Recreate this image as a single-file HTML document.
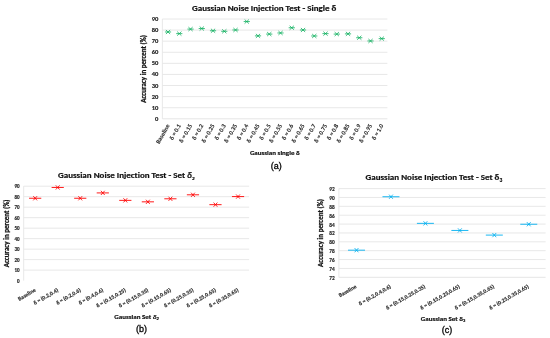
<!DOCTYPE html>
<html><head><meta charset="utf-8"><style>
html,body{margin:0;padding:0;background:#fff;}
body{width:550px;height:338px;overflow:hidden;}
svg{display:block;font-variant-ligatures:none;filter:blur(0.3px);}
</style></head><body>
<svg width="550" height="338" viewBox="0 0 550 338">
<text x="0.00" y="0.00" font-size="9" font-weight="bold" text-anchor="start" fill="#111" font-family="Carlito, 'Liberation Sans', sans-serif" stroke="#111" stroke-width="0.22" transform="translate(192.00,10.90) scale(1,0.88)">Gaussian Noise Injection Test - Single δ</text>
<text x="0.00" y="0.00" font-size="5.8" font-weight="bold" text-anchor="end" fill="#2a2a2a" font-family="Carlito, 'Liberation Sans', sans-serif" stroke="#2a2a2a" stroke-width="0.18" transform="translate(158.40,120.78) scale(1.12,1)">0</text>
<line x1="162.40" y1="107.71" x2="387.40" y2="107.71" stroke="#e5e5e5" stroke-width="0.9"/>
<text x="0.00" y="0.00" font-size="5.8" font-weight="bold" text-anchor="end" fill="#2a2a2a" font-family="Carlito, 'Liberation Sans', sans-serif" stroke="#2a2a2a" stroke-width="0.18" transform="translate(158.40,109.69) scale(1.12,1)">10</text>
<line x1="162.40" y1="96.62" x2="387.40" y2="96.62" stroke="#e5e5e5" stroke-width="0.9"/>
<text x="0.00" y="0.00" font-size="5.8" font-weight="bold" text-anchor="end" fill="#2a2a2a" font-family="Carlito, 'Liberation Sans', sans-serif" stroke="#2a2a2a" stroke-width="0.18" transform="translate(158.40,98.61) scale(1.12,1)">20</text>
<line x1="162.40" y1="85.53" x2="387.40" y2="85.53" stroke="#e5e5e5" stroke-width="0.9"/>
<text x="0.00" y="0.00" font-size="5.8" font-weight="bold" text-anchor="end" fill="#2a2a2a" font-family="Carlito, 'Liberation Sans', sans-serif" stroke="#2a2a2a" stroke-width="0.18" transform="translate(158.40,87.52) scale(1.12,1)">30</text>
<line x1="162.40" y1="74.44" x2="387.40" y2="74.44" stroke="#e5e5e5" stroke-width="0.9"/>
<text x="0.00" y="0.00" font-size="5.8" font-weight="bold" text-anchor="end" fill="#2a2a2a" font-family="Carlito, 'Liberation Sans', sans-serif" stroke="#2a2a2a" stroke-width="0.18" transform="translate(158.40,76.43) scale(1.12,1)">40</text>
<line x1="162.40" y1="63.36" x2="387.40" y2="63.36" stroke="#e5e5e5" stroke-width="0.9"/>
<text x="0.00" y="0.00" font-size="5.8" font-weight="bold" text-anchor="end" fill="#2a2a2a" font-family="Carlito, 'Liberation Sans', sans-serif" stroke="#2a2a2a" stroke-width="0.18" transform="translate(158.40,65.34) scale(1.12,1)">50</text>
<line x1="162.40" y1="52.27" x2="387.40" y2="52.27" stroke="#e5e5e5" stroke-width="0.9"/>
<text x="0.00" y="0.00" font-size="5.8" font-weight="bold" text-anchor="end" fill="#2a2a2a" font-family="Carlito, 'Liberation Sans', sans-serif" stroke="#2a2a2a" stroke-width="0.18" transform="translate(158.40,54.25) scale(1.12,1)">60</text>
<line x1="162.40" y1="41.18" x2="387.40" y2="41.18" stroke="#e5e5e5" stroke-width="0.9"/>
<text x="0.00" y="0.00" font-size="5.8" font-weight="bold" text-anchor="end" fill="#2a2a2a" font-family="Carlito, 'Liberation Sans', sans-serif" stroke="#2a2a2a" stroke-width="0.18" transform="translate(158.40,43.16) scale(1.12,1)">70</text>
<line x1="162.40" y1="30.09" x2="387.40" y2="30.09" stroke="#e5e5e5" stroke-width="0.9"/>
<text x="0.00" y="0.00" font-size="5.8" font-weight="bold" text-anchor="end" fill="#2a2a2a" font-family="Carlito, 'Liberation Sans', sans-serif" stroke="#2a2a2a" stroke-width="0.18" transform="translate(158.40,32.07) scale(1.12,1)">80</text>
<line x1="162.40" y1="19.00" x2="387.40" y2="19.00" stroke="#e5e5e5" stroke-width="0.9"/>
<text x="0.00" y="0.00" font-size="5.8" font-weight="bold" text-anchor="end" fill="#2a2a2a" font-family="Carlito, 'Liberation Sans', sans-serif" stroke="#2a2a2a" stroke-width="0.18" transform="translate(158.40,20.98) scale(1.12,1)">90</text>
<line x1="162.40" y1="19.00" x2="162.40" y2="118.80" stroke="#e5e5e5" stroke-width="0.9"/>
<line x1="162.40" y1="118.80" x2="387.40" y2="118.80" stroke="#e5e5e5" stroke-width="1"/>
<path d="M165.93,29.97L170.12,33.97M165.93,33.97L170.12,29.97M164.93,31.97L171.12,31.97" stroke="#10b060" stroke-width="0.8" fill="none"/>
<text x="0.00" y="0.00" font-size="6.2" font-weight="bold" text-anchor="end" fill="#2a2a2a" font-family="Carlito, 'Liberation Sans', sans-serif" stroke="#2a2a2a" stroke-width="0.1" transform="translate(169.93,125.60) rotate(-60)">Baseline</text>
<path d="M177.18,31.64L181.38,35.64M177.18,35.64L181.38,31.64M176.18,33.64L182.38,33.64" stroke="#10b060" stroke-width="0.8" fill="none"/>
<text x="0.00" y="0.00" font-size="6.2" font-weight="bold" text-anchor="end" fill="#2a2a2a" font-family="Carlito, 'Liberation Sans', sans-serif" stroke="#2a2a2a" stroke-width="0.1" transform="translate(181.18,125.60) rotate(-60)">δ = 0.1</text>
<path d="M188.43,27.09L192.62,31.09M188.43,31.09L192.62,27.09M187.43,29.09L193.62,29.09" stroke="#10b060" stroke-width="0.8" fill="none"/>
<text x="0.00" y="0.00" font-size="6.2" font-weight="bold" text-anchor="end" fill="#2a2a2a" font-family="Carlito, 'Liberation Sans', sans-serif" stroke="#2a2a2a" stroke-width="0.1" transform="translate(192.43,125.60) rotate(-60)">δ = 0.15</text>
<path d="M199.68,26.54L203.88,30.54M199.68,30.54L203.88,26.54M198.68,28.54L204.88,28.54" stroke="#10b060" stroke-width="0.8" fill="none"/>
<text x="0.00" y="0.00" font-size="6.2" font-weight="bold" text-anchor="end" fill="#2a2a2a" font-family="Carlito, 'Liberation Sans', sans-serif" stroke="#2a2a2a" stroke-width="0.1" transform="translate(203.68,125.60) rotate(-60)">δ = 0.2</text>
<path d="M210.93,28.75L215.12,32.75M210.93,32.75L215.12,28.75M209.93,30.75L216.12,30.75" stroke="#10b060" stroke-width="0.8" fill="none"/>
<text x="0.00" y="0.00" font-size="6.2" font-weight="bold" text-anchor="end" fill="#2a2a2a" font-family="Carlito, 'Liberation Sans', sans-serif" stroke="#2a2a2a" stroke-width="0.1" transform="translate(214.93,125.60) rotate(-60)">δ = 0.25</text>
<path d="M222.18,29.31L226.38,33.31M222.18,33.31L226.38,29.31M221.18,31.31L227.38,31.31" stroke="#10b060" stroke-width="0.8" fill="none"/>
<text x="0.00" y="0.00" font-size="6.2" font-weight="bold" text-anchor="end" fill="#2a2a2a" font-family="Carlito, 'Liberation Sans', sans-serif" stroke="#2a2a2a" stroke-width="0.1" transform="translate(226.18,125.60) rotate(-60)">δ = 0.3</text>
<path d="M233.42,27.98L237.62,31.98M233.42,31.98L237.62,27.98M232.42,29.98L238.62,29.98" stroke="#10b060" stroke-width="0.8" fill="none"/>
<text x="0.00" y="0.00" font-size="6.2" font-weight="bold" text-anchor="end" fill="#2a2a2a" font-family="Carlito, 'Liberation Sans', sans-serif" stroke="#2a2a2a" stroke-width="0.1" transform="translate(237.42,125.60) rotate(-60)">δ = 0.35</text>
<path d="M244.67,19.55L248.87,23.55M244.67,23.55L248.87,19.55M243.67,21.55L249.87,21.55" stroke="#10b060" stroke-width="0.8" fill="none"/>
<text x="0.00" y="0.00" font-size="6.2" font-weight="bold" text-anchor="end" fill="#2a2a2a" font-family="Carlito, 'Liberation Sans', sans-serif" stroke="#2a2a2a" stroke-width="0.1" transform="translate(248.67,125.60) rotate(-60)">δ = 0.4</text>
<path d="M255.92,33.86L260.12,37.86M255.92,37.86L260.12,33.86M254.92,35.86L261.12,35.86" stroke="#10b060" stroke-width="0.8" fill="none"/>
<text x="0.00" y="0.00" font-size="6.2" font-weight="bold" text-anchor="end" fill="#2a2a2a" font-family="Carlito, 'Liberation Sans', sans-serif" stroke="#2a2a2a" stroke-width="0.1" transform="translate(259.92,125.60) rotate(-60)">δ = 0.45</text>
<path d="M267.17,32.08L271.38,36.08M267.17,36.08L271.38,32.08M266.17,34.08L272.38,34.08" stroke="#10b060" stroke-width="0.8" fill="none"/>
<text x="0.00" y="0.00" font-size="6.2" font-weight="bold" text-anchor="end" fill="#2a2a2a" font-family="Carlito, 'Liberation Sans', sans-serif" stroke="#2a2a2a" stroke-width="0.1" transform="translate(271.17,125.60) rotate(-60)">δ = 0.5</text>
<path d="M278.42,30.97L282.62,34.97M278.42,34.97L282.62,30.97M277.42,32.97L283.62,32.97" stroke="#10b060" stroke-width="0.8" fill="none"/>
<text x="0.00" y="0.00" font-size="6.2" font-weight="bold" text-anchor="end" fill="#2a2a2a" font-family="Carlito, 'Liberation Sans', sans-serif" stroke="#2a2a2a" stroke-width="0.1" transform="translate(282.42,125.60) rotate(-60)">δ = 0.55</text>
<path d="M289.67,25.76L293.88,29.76M289.67,29.76L293.88,25.76M288.67,27.76L294.88,27.76" stroke="#10b060" stroke-width="0.8" fill="none"/>
<text x="0.00" y="0.00" font-size="6.2" font-weight="bold" text-anchor="end" fill="#2a2a2a" font-family="Carlito, 'Liberation Sans', sans-serif" stroke="#2a2a2a" stroke-width="0.1" transform="translate(293.67,125.60) rotate(-60)">δ = 0.6</text>
<path d="M300.92,27.98L305.12,31.98M300.92,31.98L305.12,27.98M299.92,29.98L306.12,29.98" stroke="#10b060" stroke-width="0.8" fill="none"/>
<text x="0.00" y="0.00" font-size="6.2" font-weight="bold" text-anchor="end" fill="#2a2a2a" font-family="Carlito, 'Liberation Sans', sans-serif" stroke="#2a2a2a" stroke-width="0.1" transform="translate(304.92,125.60) rotate(-60)">δ = 0.65</text>
<path d="M312.17,33.97L316.38,37.97M312.17,37.97L316.38,33.97M311.17,35.97L317.38,35.97" stroke="#10b060" stroke-width="0.8" fill="none"/>
<text x="0.00" y="0.00" font-size="6.2" font-weight="bold" text-anchor="end" fill="#2a2a2a" font-family="Carlito, 'Liberation Sans', sans-serif" stroke="#2a2a2a" stroke-width="0.1" transform="translate(316.17,125.60) rotate(-60)">δ = 0.7</text>
<path d="M323.42,31.64L327.62,35.64M323.42,35.64L327.62,31.64M322.42,33.64L328.62,33.64" stroke="#10b060" stroke-width="0.8" fill="none"/>
<text x="0.00" y="0.00" font-size="6.2" font-weight="bold" text-anchor="end" fill="#2a2a2a" font-family="Carlito, 'Liberation Sans', sans-serif" stroke="#2a2a2a" stroke-width="0.1" transform="translate(327.42,125.60) rotate(-60)">δ = 0.75</text>
<path d="M334.67,32.08L338.88,36.08M334.67,36.08L338.88,32.08M333.67,34.08L339.88,34.08" stroke="#10b060" stroke-width="0.8" fill="none"/>
<text x="0.00" y="0.00" font-size="6.2" font-weight="bold" text-anchor="end" fill="#2a2a2a" font-family="Carlito, 'Liberation Sans', sans-serif" stroke="#2a2a2a" stroke-width="0.1" transform="translate(338.67,125.60) rotate(-60)">δ = 0.8</text>
<path d="M345.92,31.86L350.12,35.86M345.92,35.86L350.12,31.86M344.92,33.86L351.12,33.86" stroke="#10b060" stroke-width="0.8" fill="none"/>
<text x="0.00" y="0.00" font-size="6.2" font-weight="bold" text-anchor="end" fill="#2a2a2a" font-family="Carlito, 'Liberation Sans', sans-serif" stroke="#2a2a2a" stroke-width="0.1" transform="translate(349.92,125.60) rotate(-60)">δ = 0.85</text>
<path d="M357.17,35.74L361.38,39.74M357.17,39.74L361.38,35.74M356.17,37.74L362.38,37.74" stroke="#10b060" stroke-width="0.8" fill="none"/>
<text x="0.00" y="0.00" font-size="6.2" font-weight="bold" text-anchor="end" fill="#2a2a2a" font-family="Carlito, 'Liberation Sans', sans-serif" stroke="#2a2a2a" stroke-width="0.1" transform="translate(361.17,125.60) rotate(-60)">δ = 0.9</text>
<path d="M368.42,38.96L372.62,42.96M368.42,42.96L372.62,38.96M367.42,40.96L373.62,40.96" stroke="#10b060" stroke-width="0.8" fill="none"/>
<text x="0.00" y="0.00" font-size="6.2" font-weight="bold" text-anchor="end" fill="#2a2a2a" font-family="Carlito, 'Liberation Sans', sans-serif" stroke="#2a2a2a" stroke-width="0.1" transform="translate(372.42,125.60) rotate(-60)">δ = 0.95</text>
<path d="M379.67,36.63L383.88,40.63M379.67,40.63L383.88,36.63M378.67,38.63L384.88,38.63" stroke="#10b060" stroke-width="0.8" fill="none"/>
<text x="0.00" y="0.00" font-size="6.2" font-weight="bold" text-anchor="end" fill="#2a2a2a" font-family="Carlito, 'Liberation Sans', sans-serif" stroke="#2a2a2a" stroke-width="0.1" transform="translate(383.67,125.60) rotate(-60)">δ = 1.0</text>
<text x="0.00" y="0.00" font-size="7" font-weight="bold" text-anchor="middle" fill="#111" font-family="Carlito, 'Liberation Sans', sans-serif" stroke="#111" stroke-width="0.25" transform="translate(146.10,68.90) rotate(-90)">Accuracy in percent (%)</text>
<text x="0.00" y="0.00" font-size="7" font-weight="bold" text-anchor="middle" fill="#111" font-family="Carlito, 'Liberation Sans', sans-serif" stroke="#111" stroke-width="0.2" transform="translate(274.80,155.10) scale(1,0.88)">Gaussian single δ</text>
<text x="276.20" y="169.10" font-size="9" font-weight="normal" text-anchor="middle" fill="#000" font-family="'Liberation Sans', Arial, sans-serif" stroke="#000" stroke-width="0.3" >(a)</text>
<text x="0.00" y="0.00" font-size="9" font-weight="bold" text-anchor="start" fill="#111" font-family="Carlito, 'Liberation Sans', sans-serif" stroke="#111" stroke-width="0.22" transform="translate(58.00,178.30) scale(1,0.88)">Gaussian Noise Injection Test - Set <tspan font-style="italic">δ</tspan><tspan font-size="5" dy="2" font-style="italic">2</tspan></text>
<text x="0.00" y="0.00" font-size="5.0" font-weight="bold" text-anchor="end" fill="#2a2a2a" font-family="Carlito, 'Liberation Sans', sans-serif" stroke="#2a2a2a" stroke-width="0.18" transform="translate(19.60,282.73) scale(1.0,1)">0</text>
<line x1="23.70" y1="270.11" x2="249.10" y2="270.11" stroke="#e5e5e5" stroke-width="0.9"/>
<text x="0.00" y="0.00" font-size="5.0" font-weight="bold" text-anchor="end" fill="#2a2a2a" font-family="Carlito, 'Liberation Sans', sans-serif" stroke="#2a2a2a" stroke-width="0.18" transform="translate(19.60,272.24) scale(1.0,1)">10</text>
<line x1="23.70" y1="259.62" x2="249.10" y2="259.62" stroke="#e5e5e5" stroke-width="0.9"/>
<text x="0.00" y="0.00" font-size="5.0" font-weight="bold" text-anchor="end" fill="#2a2a2a" font-family="Carlito, 'Liberation Sans', sans-serif" stroke="#2a2a2a" stroke-width="0.18" transform="translate(19.60,261.75) scale(1.0,1)">20</text>
<line x1="23.70" y1="249.13" x2="249.10" y2="249.13" stroke="#e5e5e5" stroke-width="0.9"/>
<text x="0.00" y="0.00" font-size="5.0" font-weight="bold" text-anchor="end" fill="#2a2a2a" font-family="Carlito, 'Liberation Sans', sans-serif" stroke="#2a2a2a" stroke-width="0.18" transform="translate(19.60,251.26) scale(1.0,1)">30</text>
<line x1="23.70" y1="238.64" x2="249.10" y2="238.64" stroke="#e5e5e5" stroke-width="0.9"/>
<text x="0.00" y="0.00" font-size="5.0" font-weight="bold" text-anchor="end" fill="#2a2a2a" font-family="Carlito, 'Liberation Sans', sans-serif" stroke="#2a2a2a" stroke-width="0.18" transform="translate(19.60,240.77) scale(1.0,1)">40</text>
<line x1="23.70" y1="228.16" x2="249.10" y2="228.16" stroke="#e5e5e5" stroke-width="0.9"/>
<text x="0.00" y="0.00" font-size="5.0" font-weight="bold" text-anchor="end" fill="#2a2a2a" font-family="Carlito, 'Liberation Sans', sans-serif" stroke="#2a2a2a" stroke-width="0.18" transform="translate(19.60,230.29) scale(1.0,1)">50</text>
<line x1="23.70" y1="217.67" x2="249.10" y2="217.67" stroke="#e5e5e5" stroke-width="0.9"/>
<text x="0.00" y="0.00" font-size="5.0" font-weight="bold" text-anchor="end" fill="#2a2a2a" font-family="Carlito, 'Liberation Sans', sans-serif" stroke="#2a2a2a" stroke-width="0.18" transform="translate(19.60,219.80) scale(1.0,1)">60</text>
<line x1="23.70" y1="207.18" x2="249.10" y2="207.18" stroke="#e5e5e5" stroke-width="0.9"/>
<text x="0.00" y="0.00" font-size="5.0" font-weight="bold" text-anchor="end" fill="#2a2a2a" font-family="Carlito, 'Liberation Sans', sans-serif" stroke="#2a2a2a" stroke-width="0.18" transform="translate(19.60,209.31) scale(1.0,1)">70</text>
<line x1="23.70" y1="196.69" x2="249.10" y2="196.69" stroke="#e5e5e5" stroke-width="0.9"/>
<text x="0.00" y="0.00" font-size="5.0" font-weight="bold" text-anchor="end" fill="#2a2a2a" font-family="Carlito, 'Liberation Sans', sans-serif" stroke="#2a2a2a" stroke-width="0.18" transform="translate(19.60,198.82) scale(1.0,1)">80</text>
<line x1="23.70" y1="186.20" x2="249.10" y2="186.20" stroke="#e5e5e5" stroke-width="0.9"/>
<text x="0.00" y="0.00" font-size="5.0" font-weight="bold" text-anchor="end" fill="#2a2a2a" font-family="Carlito, 'Liberation Sans', sans-serif" stroke="#2a2a2a" stroke-width="0.18" transform="translate(19.60,188.33) scale(1.0,1)">90</text>
<line x1="23.70" y1="186.20" x2="23.70" y2="280.60" stroke="#e5e5e5" stroke-width="0.9"/>
<path d="M33.27,196.16L37.07,200.36M33.27,200.36L37.07,196.16" stroke="#ff0000" stroke-width="0.85" fill="none"/><path d="M29.07,198.26L41.27,198.26" stroke="#ff0000" stroke-width="0.9" fill="none"/>
<text x="0.00" y="0.00" font-size="5.6" font-weight="bold" text-anchor="end" fill="#2a2a2a" font-family="Carlito, 'Liberation Sans', sans-serif" stroke="#2a2a2a" stroke-width="0.15" transform="translate(36.17,291.20) rotate(-30)">Baseline</text>
<path d="M55.81,185.36L59.61,189.56M55.81,189.56L59.61,185.36" stroke="#ff0000" stroke-width="0.85" fill="none"/><path d="M51.61,187.46L63.81,187.46" stroke="#ff0000" stroke-width="0.9" fill="none"/>
<text x="0.00" y="0.00" font-size="5.6" font-weight="bold" text-anchor="end" fill="#2a2a2a" font-family="Carlito, 'Liberation Sans', sans-serif" stroke="#2a2a2a" stroke-width="0.15" transform="translate(58.71,291.20) rotate(-30)">δ = (0.2,0.4)</text>
<path d="M78.35,196.16L82.15,200.36M78.35,200.36L82.15,196.16" stroke="#ff0000" stroke-width="0.85" fill="none"/><path d="M74.15,198.26L86.35,198.26" stroke="#ff0000" stroke-width="0.9" fill="none"/>
<text x="0.00" y="0.00" font-size="5.6" font-weight="bold" text-anchor="end" fill="#2a2a2a" font-family="Carlito, 'Liberation Sans', sans-serif" stroke="#2a2a2a" stroke-width="0.15" transform="translate(81.25,291.20) rotate(-30)">δ = (0.2,0.6)</text>
<path d="M100.89,190.81L104.69,195.01M100.89,195.01L104.69,190.81" stroke="#ff0000" stroke-width="0.85" fill="none"/><path d="M96.69,192.91L108.89,192.91" stroke="#ff0000" stroke-width="0.9" fill="none"/>
<text x="0.00" y="0.00" font-size="5.6" font-weight="bold" text-anchor="end" fill="#2a2a2a" font-family="Carlito, 'Liberation Sans', sans-serif" stroke="#2a2a2a" stroke-width="0.15" transform="translate(103.79,291.20) rotate(-30)">δ = (0.4,0.6)</text>
<path d="M123.43,198.26L127.23,202.46M123.43,202.46L127.23,198.26" stroke="#ff0000" stroke-width="0.85" fill="none"/><path d="M119.23,200.36L131.43,200.36" stroke="#ff0000" stroke-width="0.9" fill="none"/>
<text x="0.00" y="0.00" font-size="5.6" font-weight="bold" text-anchor="end" fill="#2a2a2a" font-family="Carlito, 'Liberation Sans', sans-serif" stroke="#2a2a2a" stroke-width="0.15" transform="translate(126.33,291.20) rotate(-30)">δ = (0.15,0.25)</text>
<path d="M145.97,199.73L149.77,203.93M145.97,203.93L149.77,199.73" stroke="#ff0000" stroke-width="0.85" fill="none"/><path d="M141.77,201.83L153.97,201.83" stroke="#ff0000" stroke-width="0.9" fill="none"/>
<text x="0.00" y="0.00" font-size="5.6" font-weight="bold" text-anchor="end" fill="#2a2a2a" font-family="Carlito, 'Liberation Sans', sans-serif" stroke="#2a2a2a" stroke-width="0.15" transform="translate(148.87,291.20) rotate(-30)">δ = (0.15,0.35)</text>
<path d="M168.51,196.69L172.31,200.89M168.51,200.89L172.31,196.69" stroke="#ff0000" stroke-width="0.85" fill="none"/><path d="M164.31,198.79L176.51,198.79" stroke="#ff0000" stroke-width="0.9" fill="none"/>
<text x="0.00" y="0.00" font-size="5.6" font-weight="bold" text-anchor="end" fill="#2a2a2a" font-family="Carlito, 'Liberation Sans', sans-serif" stroke="#2a2a2a" stroke-width="0.15" transform="translate(171.41,291.20) rotate(-30)">δ = (0.15,0.65)</text>
<path d="M191.05,192.70L194.85,196.90M191.05,196.90L194.85,192.70" stroke="#ff0000" stroke-width="0.85" fill="none"/><path d="M186.85,194.80L199.05,194.80" stroke="#ff0000" stroke-width="0.9" fill="none"/>
<text x="0.00" y="0.00" font-size="5.6" font-weight="bold" text-anchor="end" fill="#2a2a2a" font-family="Carlito, 'Liberation Sans', sans-serif" stroke="#2a2a2a" stroke-width="0.15" transform="translate(193.95,291.20) rotate(-30)">δ = (0.25,0.35)</text>
<path d="M213.59,202.56L217.39,206.76M213.59,206.76L217.39,202.56" stroke="#ff0000" stroke-width="0.85" fill="none"/><path d="M209.39,204.66L221.59,204.66" stroke="#ff0000" stroke-width="0.9" fill="none"/>
<text x="0.00" y="0.00" font-size="5.6" font-weight="bold" text-anchor="end" fill="#2a2a2a" font-family="Carlito, 'Liberation Sans', sans-serif" stroke="#2a2a2a" stroke-width="0.15" transform="translate(216.49,291.20) rotate(-30)">δ = (0.25,0.65)</text>
<path d="M236.13,194.48L239.93,198.68M236.13,198.68L239.93,194.48" stroke="#ff0000" stroke-width="0.85" fill="none"/><path d="M231.93,196.58L244.13,196.58" stroke="#ff0000" stroke-width="0.9" fill="none"/>
<text x="0.00" y="0.00" font-size="5.6" font-weight="bold" text-anchor="end" fill="#2a2a2a" font-family="Carlito, 'Liberation Sans', sans-serif" stroke="#2a2a2a" stroke-width="0.15" transform="translate(239.03,291.20) rotate(-30)">δ = (0.35,0.65)</text>
<text x="0.00" y="0.00" font-size="7" font-weight="bold" text-anchor="middle" fill="#111" font-family="Carlito, 'Liberation Sans', sans-serif" stroke="#111" stroke-width="0.25" transform="translate(8.50,233.40) rotate(-90)">Accuracy in percent (%)</text>
<text x="0.00" y="0.00" font-size="7" font-weight="bold" text-anchor="middle" fill="#111" font-family="Carlito, 'Liberation Sans', sans-serif" stroke="#111" stroke-width="0.2" transform="translate(136.50,319.00) scale(1,0.88)">Gaussian Set <tspan font-style="italic">δ</tspan><tspan font-size="4.3" dy="1.6" font-style="italic">2</tspan></text>
<text x="141.50" y="332.40" font-size="9" font-weight="normal" text-anchor="middle" fill="#000" font-family="'Liberation Sans', Arial, sans-serif" stroke="#000" stroke-width="0.3" >(b)</text>
<text x="0.00" y="0.00" font-size="9" font-weight="bold" text-anchor="start" fill="#111" font-family="Carlito, 'Liberation Sans', sans-serif" stroke="#111" stroke-width="0.22" transform="translate(365.50,180.30) scale(1,0.88)">Gaussian Noise Injection Test - Set δ<tspan font-size="5.5" dy="1.8">3</tspan></text>
<text x="0.00" y="0.00" font-size="5.3" font-weight="bold" text-anchor="end" fill="#2a2a2a" font-family="Carlito, 'Liberation Sans', sans-serif" stroke="#2a2a2a" stroke-width="0.18" transform="translate(334.70,279.77) scale(1.0,1)">72</text>
<line x1="338.90" y1="268.43" x2="545.60" y2="268.43" stroke="#e5e5e5" stroke-width="0.9"/>
<text x="0.00" y="0.00" font-size="5.3" font-weight="bold" text-anchor="end" fill="#2a2a2a" font-family="Carlito, 'Liberation Sans', sans-serif" stroke="#2a2a2a" stroke-width="0.18" transform="translate(334.70,270.90) scale(1.0,1)">74</text>
<line x1="338.90" y1="259.56" x2="545.60" y2="259.56" stroke="#e5e5e5" stroke-width="0.9"/>
<text x="0.00" y="0.00" font-size="5.3" font-weight="bold" text-anchor="end" fill="#2a2a2a" font-family="Carlito, 'Liberation Sans', sans-serif" stroke="#2a2a2a" stroke-width="0.18" transform="translate(334.70,262.03) scale(1.0,1)">76</text>
<line x1="338.90" y1="250.69" x2="545.60" y2="250.69" stroke="#e5e5e5" stroke-width="0.9"/>
<text x="0.00" y="0.00" font-size="5.3" font-weight="bold" text-anchor="end" fill="#2a2a2a" font-family="Carlito, 'Liberation Sans', sans-serif" stroke="#2a2a2a" stroke-width="0.18" transform="translate(334.70,253.16) scale(1.0,1)">78</text>
<line x1="338.90" y1="241.82" x2="545.60" y2="241.82" stroke="#e5e5e5" stroke-width="0.9"/>
<text x="0.00" y="0.00" font-size="5.3" font-weight="bold" text-anchor="end" fill="#2a2a2a" font-family="Carlito, 'Liberation Sans', sans-serif" stroke="#2a2a2a" stroke-width="0.18" transform="translate(334.70,244.29) scale(1.0,1)">80</text>
<line x1="338.90" y1="232.95" x2="545.60" y2="232.95" stroke="#e5e5e5" stroke-width="0.9"/>
<text x="0.00" y="0.00" font-size="5.3" font-weight="bold" text-anchor="end" fill="#2a2a2a" font-family="Carlito, 'Liberation Sans', sans-serif" stroke="#2a2a2a" stroke-width="0.18" transform="translate(334.70,235.42) scale(1.0,1)">82</text>
<line x1="338.90" y1="224.08" x2="545.60" y2="224.08" stroke="#e5e5e5" stroke-width="0.9"/>
<text x="0.00" y="0.00" font-size="5.3" font-weight="bold" text-anchor="end" fill="#2a2a2a" font-family="Carlito, 'Liberation Sans', sans-serif" stroke="#2a2a2a" stroke-width="0.18" transform="translate(334.70,226.55) scale(1.0,1)">84</text>
<line x1="338.90" y1="215.21" x2="545.60" y2="215.21" stroke="#e5e5e5" stroke-width="0.9"/>
<text x="0.00" y="0.00" font-size="5.3" font-weight="bold" text-anchor="end" fill="#2a2a2a" font-family="Carlito, 'Liberation Sans', sans-serif" stroke="#2a2a2a" stroke-width="0.18" transform="translate(334.70,217.68) scale(1.0,1)">86</text>
<line x1="338.90" y1="206.34" x2="545.60" y2="206.34" stroke="#e5e5e5" stroke-width="0.9"/>
<text x="0.00" y="0.00" font-size="5.3" font-weight="bold" text-anchor="end" fill="#2a2a2a" font-family="Carlito, 'Liberation Sans', sans-serif" stroke="#2a2a2a" stroke-width="0.18" transform="translate(334.70,208.81) scale(1.0,1)">88</text>
<line x1="338.90" y1="197.47" x2="545.60" y2="197.47" stroke="#e5e5e5" stroke-width="0.9"/>
<text x="0.00" y="0.00" font-size="5.3" font-weight="bold" text-anchor="end" fill="#2a2a2a" font-family="Carlito, 'Liberation Sans', sans-serif" stroke="#2a2a2a" stroke-width="0.18" transform="translate(334.70,199.94) scale(1.0,1)">90</text>
<line x1="338.90" y1="188.60" x2="545.60" y2="188.60" stroke="#e5e5e5" stroke-width="0.9"/>
<text x="0.00" y="0.00" font-size="5.3" font-weight="bold" text-anchor="end" fill="#2a2a2a" font-family="Carlito, 'Liberation Sans', sans-serif" stroke="#2a2a2a" stroke-width="0.18" transform="translate(334.70,191.07) scale(1.0,1)">92</text>
<line x1="338.90" y1="188.60" x2="338.90" y2="277.30" stroke="#e5e5e5" stroke-width="0.9"/>
<line x1="338.90" y1="277.30" x2="545.60" y2="277.30" stroke="#e5e5e5" stroke-width="1"/>
<path d="M354.62,248.08L358.42,252.28M354.62,252.28L358.42,248.08" stroke="#00b0f0" stroke-width="0.85" fill="none"/><path d="M348.02,250.18L365.02,250.18" stroke="#00b0f0" stroke-width="0.9" fill="none"/>
<text x="0.00" y="0.00" font-size="5.6" font-weight="bold" text-anchor="end" fill="#2a2a2a" font-family="Carlito, 'Liberation Sans', sans-serif" stroke="#2a2a2a" stroke-width="0.15" transform="translate(356.93,287.60) rotate(-30)">Baseline</text>
<path d="M389.07,194.64L392.87,198.84M389.07,198.84L392.87,194.64" stroke="#00b0f0" stroke-width="0.85" fill="none"/><path d="M382.47,196.74L399.47,196.74" stroke="#00b0f0" stroke-width="0.9" fill="none"/>
<text x="0.00" y="0.00" font-size="5.6" font-weight="bold" text-anchor="end" fill="#2a2a2a" font-family="Carlito, 'Liberation Sans', sans-serif" stroke="#2a2a2a" stroke-width="0.15" transform="translate(391.38,287.60) rotate(-30)">δ = (0.2,0.4,0.6)</text>
<path d="M423.52,221.25L427.32,225.45M423.52,225.45L427.32,221.25" stroke="#00b0f0" stroke-width="0.85" fill="none"/><path d="M416.92,223.35L433.92,223.35" stroke="#00b0f0" stroke-width="0.9" fill="none"/>
<text x="0.00" y="0.00" font-size="5.6" font-weight="bold" text-anchor="end" fill="#2a2a2a" font-family="Carlito, 'Liberation Sans', sans-serif" stroke="#2a2a2a" stroke-width="0.15" transform="translate(425.82,287.60) rotate(-30)">δ = (0.15,0.25,0.35)</text>
<path d="M457.98,228.35L461.77,232.55M457.98,232.55L461.77,228.35" stroke="#00b0f0" stroke-width="0.85" fill="none"/><path d="M451.38,230.45L468.38,230.45" stroke="#00b0f0" stroke-width="0.9" fill="none"/>
<text x="0.00" y="0.00" font-size="5.6" font-weight="bold" text-anchor="end" fill="#2a2a2a" font-family="Carlito, 'Liberation Sans', sans-serif" stroke="#2a2a2a" stroke-width="0.15" transform="translate(460.28,287.60) rotate(-30)">δ = (0.15,0.25,0.65)</text>
<path d="M492.43,233.00L496.22,237.20M492.43,237.20L496.22,233.00" stroke="#00b0f0" stroke-width="0.85" fill="none"/><path d="M485.82,235.10L502.82,235.10" stroke="#00b0f0" stroke-width="0.9" fill="none"/>
<text x="0.00" y="0.00" font-size="5.6" font-weight="bold" text-anchor="end" fill="#2a2a2a" font-family="Carlito, 'Liberation Sans', sans-serif" stroke="#2a2a2a" stroke-width="0.15" transform="translate(494.73,287.60) rotate(-30)">δ = (0.15,0.35,0.65)</text>
<path d="M526.88,222.14L530.67,226.34M526.88,226.34L530.67,222.14" stroke="#00b0f0" stroke-width="0.85" fill="none"/><path d="M520.27,224.24L537.27,224.24" stroke="#00b0f0" stroke-width="0.9" fill="none"/>
<text x="0.00" y="0.00" font-size="5.6" font-weight="bold" text-anchor="end" fill="#2a2a2a" font-family="Carlito, 'Liberation Sans', sans-serif" stroke="#2a2a2a" stroke-width="0.15" transform="translate(529.17,287.60) rotate(-30)">δ = (0.25,0.35,0.65)</text>
<text x="0.00" y="0.00" font-size="7" font-weight="bold" text-anchor="middle" fill="#111" font-family="Carlito, 'Liberation Sans', sans-serif" stroke="#111" stroke-width="0.25" transform="translate(323.40,233.00) rotate(-90)">Accuracy in percent (%)</text>
<text x="0.00" y="0.00" font-size="7" font-weight="bold" text-anchor="middle" fill="#111" font-family="Carlito, 'Liberation Sans', sans-serif" stroke="#111" stroke-width="0.2" transform="translate(443.00,321.10) scale(1,0.88)">Gaussian Set δ<tspan font-size="4.5" dy="1.5">3</tspan></text>
<text x="447.10" y="332.70" font-size="9" font-weight="normal" text-anchor="middle" fill="#000" font-family="'Liberation Sans', Arial, sans-serif" stroke="#000" stroke-width="0.3" >(c)</text>
</svg>
</body></html>
